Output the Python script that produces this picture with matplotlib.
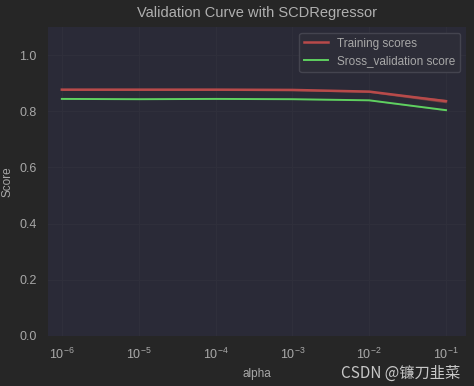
import matplotlib.pyplot as plt
import numpy as np

# validation curve values
alpha = [1e-6, 1e-5, 1e-4, 1e-3, 1e-2, 1e-1]
train_mean = [0.877, 0.877, 0.877, 0.876, 0.870, 0.836]
train_std = [0.003, 0.003, 0.003, 0.003, 0.003, 0.006]
test_mean = [0.844, 0.843, 0.844, 0.843, 0.839, 0.804]
test_std = [0.001, 0.001, 0.001, 0.001, 0.001, 0.002]

train_mean = np.array(train_mean)
train_std = np.array(train_std)
test_mean = np.array(test_mean)
test_std = np.array(test_std)

fig_bg = '#262626'
ax_bg = '#2a2a37'
txt = '#a8a8a8'

plt.rcParams['font.family'] = ['Liberation Sans', 'DejaVu Sans']
fig = plt.figure(figsize=(4.74, 3.86), dpi=100, facecolor=fig_bg)
ax = fig.add_axes([48 / 474, 1 - 336 / 386, 418 / 474, 309 / 386])
ax.set_facecolor(ax_bg)

ax.semilogx(alpha, train_mean, color='#b84a4a', lw=1.8, label='Training scores')
ax.fill_between(alpha, train_mean - train_std, train_mean + train_std,
                color='#c06050', alpha=0.45, lw=0)
ax.semilogx(alpha, test_mean, color='#5fd060', lw=1.4, label='Sross_validation score')
ax.fill_between(alpha, test_mean - test_std, test_mean + test_std,
                color='#5fd060', alpha=0.3, lw=0)

ax.set_xlim(10 ** -6.18, 10 ** -0.74)
ax.set_ylim(0.0, 1.1)
ax.set_yticks([0.0, 0.2, 0.4, 0.6, 0.8, 1.0])
ax.minorticks_off()
ax.set_title('Validation Curve with SCDRegressor', color='#b0b0b0', fontsize=10.5, pad=7)
ax.set_xlabel('alpha', color=txt, fontsize=8.5, labelpad=4)
ax.set_ylabel('Score', color=txt, fontsize=8.5)
ax.tick_params(colors=txt, labelsize=9, length=0, pad=8)
ax.grid(True, color='#2f2f3b', lw=0.8)
ax.set_axisbelow(True)
for s in ax.spines.values():
    s.set_visible(False)

leg = ax.legend(loc='upper right', fontsize=8.5, facecolor='#2d2d38',
                edgecolor='#44444f', framealpha=1, labelcolor=txt)

fig.text(0.972, 0.012, 'CSDN @镰刀韭菜', color='#c8c8c8', fontsize=11,
         ha='right', va='bottom', family=['Noto Sans CJK SC', 'DejaVu Sans'])

fig.savefig('out.png', dpi=100, facecolor=fig_bg)
